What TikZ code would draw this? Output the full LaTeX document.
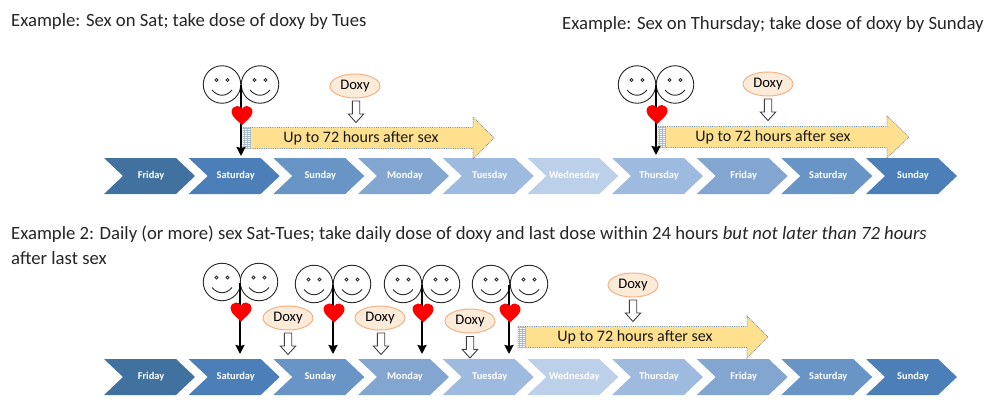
\documentclass[tikz,border=0pt]{standalone}
\usepackage{fontspec}
\setmainfont{Carlito}
\usetikzlibrary{arrows.meta,shapes.geometric}
\definecolor{cA}{HTML}{41719F}
\definecolor{cB}{HTML}{4C7FB7}
\definecolor{cC}{HTML}{6894C6}
\definecolor{cD}{HTML}{83A6D0}
\definecolor{cE}{HTML}{9FBADF}
\definecolor{cF}{HTML}{BDD0EA}
\definecolor{doxyfill}{HTML}{FDEBDA}
\definecolor{doxyline}{HTML}{F4B183}
\definecolor{yel}{HTML}{FFE08F}
\definecolor{hatch}{HTML}{6F8FAF}
\tikzset{
  daytext/.style={text=white,font=\fontsize{10.4}{12}\selectfont\bfseries,inner sep=0pt},
  title/.style={anchor=west,inner sep=0pt,font=\fontsize{18.7}{22}\selectfont,text=black!85},
  doxybub/.style={ellipse,draw=doxyline,fill=doxyfill,line width=1pt,minimum width=50pt,minimum height=24pt,inner sep=0pt,font=\fontsize{14.6}{16}\selectfont},
  face/.style={circle,draw=black!85,line width=0.9pt,minimum size=37.5pt,inner sep=0pt,fill=white},
  sexline/.style={-{Stealth[length=9pt,width=9pt,inset=1pt]},line width=2.2pt,black},
  hollow/.style={draw=black!75,fill=white,line width=0.9pt},
  yarrow/.style={draw=hatch,densely dotted,line width=0.8pt,fill=yel},
  ylabel/.style={inner sep=0pt,font=\fontsize{16}{18}\selectfont,text=black!90},
}
% \chev{name}{left x}{top y}{colour}{label}
\newcommand{\chev}[5]{%
  \fill[#4] (#2,#3) -- ++(72,0) -- ++(19,18) -- ++(-19,18) -- ++(-72,0) -- ++(19,-18) -- cycle;
  \node[daytext] (#1) at ({#2+47},{#3+18}) {#5};
}
% \smiley{name}{x}{y}
\newcommand{\smiley}[3]{%
  \node[face] (#1) at (#2,#3) {};
  \draw[black!80,line width=0.9pt] ({#2-5.5},{#3-4.5}) circle (1.6pt) ({#2+5.5},{#3-4.5}) circle (1.6pt);
  \draw[black!85,line width=0.9pt] ({#2-10},{#3+5.5}) .. controls ({#2-4},{#3+12.5}) and ({#2+4},{#3+12.5}) .. ({#2+10},{#3+5.5});
}
% \hrt{name}{x}{y}: heart centred at x,y
\newcommand{\hrt}[3]{%
  \coordinate (#1) at (#2,#3);
  \fill[red] (#2,{#3+9.5})
    .. controls ({#2-3},{#3+6}) and ({#2-10.5},{#3+1.5}) .. ({#2-10.5},{#3-3.5})
    .. controls ({#2-10.5},{#3-7}) and ({#2-8},{#3-9.5}) .. ({#2-5},{#3-9.5})
    .. controls ({#2-3},{#3-9.5}) and ({#2-1},{#3-8.5}) .. (#2,{#3-6.5})
    .. controls ({#2+1},{#3-8.5}) and ({#2+3},{#3-9.5}) .. ({#2+5},{#3-9.5})
    .. controls ({#2+8},{#3-9.5}) and ({#2+10.5},{#3-7}) .. ({#2+10.5},{#3-3.5})
    .. controls ({#2+10.5},{#3+1.5}) and ({#2+3},{#3+6}) .. (#2,{#3+9.5}) -- cycle;
}
% \couple{name}{lx}{rx}{y}{line x}{end y}{heart y}
\newcommand{\couple}[7]{%
  \smiley{#1l}{#2}{#4}\smiley{#1r}{#3}{#4}
  \coordinate (#1top) at (#5,{#4+1});
  \coordinate (#1end) at (#5,#6);
  \draw[sexline] (#1top) -- (#1end);
  \hrt{#1h}{#5+1}{#7}
}
% \doxy{name}{x}{y}{arrow x}{arrow top y}
\newcommand{\doxy}[5]{%
  \node[doxybub] (#1) at (#2,#3) {Doxy};
  \draw[hollow] ({#4-3.7},#5) -- ({#4+3.7},#5) -- ({#4+3.7},{#5+13}) -- ({#4+7.7},{#5+13}) -- (#4,{#5+21.5})
    -- ({#4-7.7},{#5+13}) -- ({#4-3.7},{#5+13}) -- cycle;
}
% \yarr{name}{left}{head x}{tip}{mid y}{label x}
\newcommand{\yarr}[6]{%
  \draw[yarrow] (#2,{#5-10.5}) -- (#3,{#5-10.5}) -- (#3,{#5-21}) -- (#4,#5) -- (#3,{#5+21}) -- (#3,{#5+10.5}) -- (#2,{#5+10.5}) -- cycle;
  \fill[hatch!60] (#2,{#5-10.5}) rectangle ({#2+8},{#5+10.5});
  \foreach \k in {-9,-7,...,9} {\draw[white,line width=0.6pt,densely dotted] (#2,{#5+\k}) -- ({#2+8},{#5+\k});}
  \node[ylabel] (#1) at (#6,{#5+0.5}) {Up to 72 hours after sex};
}
\begin{document}
\begin{tikzpicture}[x=1pt,y=-1pt]
\useasboundingbox (0,0) rectangle (1000,409);
\fill[white] (0,0) rectangle (1000,409);

\node[title] (t1) at (11,22) {Example: Sex on Sat; take dose of doxy by Tues};
\node[title] (t2) at (562,25) {Example: Sex on Thursday; take dose of doxy by Sunday};
\node[title] (t3) at (11,234) {Example 2: Daily (or more) sex Sat-Tues; take daily dose of doxy and last dose within 24 hours \textit{but not later than 72 hours}};
\node[title] (t4) at (11,258) {after last sex};

% row 1
\chev{ra}{104}{158}{cA}{Friday}
\chev{rb}{188.7}{158}{cB}{Saturday}
\chev{rc}{273.3}{158}{cC}{Sunday}
\chev{rd}{358}{158}{cD}{Monday}
\chev{re}{442.7}{158}{cE}{Tuesday}
\chev{rf}{527.3}{158}{cF}{Wednesday}
\chev{rg}{612}{158}{cE}{Thursday}
\chev{rh}{696.7}{158}{cD}{Friday}
\chev{ri}{781.3}{158}{cC}{Saturday}
\chev{rj}{866}{158}{cB}{Sunday}

% row 2
\chev{sa}{104}{359}{cA}{Friday}
\chev{sb}{188.7}{359}{cB}{Saturday}
\chev{sc}{273.3}{359}{cC}{Sunday}
\chev{sd}{358}{359}{cD}{Monday}
\chev{se}{442.7}{359}{cE}{Tuesday}
\chev{sf}{527.3}{359}{cF}{Wednesday}
\chev{sg}{612}{359}{cE}{Thursday}
\chev{sh}{696.7}{359}{cD}{Friday}
\chev{si}{781.3}{359}{cC}{Saturday}
\chev{sj}{866}{359}{cB}{Sunday}

% yellow arrows
\yarr{ya}{243}{473}{494}{138}{361}
\yarr{yb}{658}{887}{909}{137}{773}
\yarr{yc}{518}{747}{768}{337}{635}

% couples
\couple{ca}{222}{260}{84.5}{241}{156}{115.5}
\couple{cb}{637}{675}{84.5}{656}{155}{114.5}
\couple{cc}{222}{259}{282}{240}{354}{312}
\couple{cd}{314}{352}{284}{333}{354}{313}
\couple{ce}{403}{441}{284}{422}{354}{313}
\couple{cf}{491}{529}{284}{509}{354}{313}

% doxy
\doxy{da}{355}{86}{356}{101}
\doxy{db}{768}{84}{768}{99}
\doxy{dc}{288}{318}{288}{333}
\doxy{dd}{380}{318}{381}{333}
\doxy{de}{470}{321}{470}{336.5}
\doxy{df}{633}{285}{633}{300}
\end{tikzpicture}
\end{document}
